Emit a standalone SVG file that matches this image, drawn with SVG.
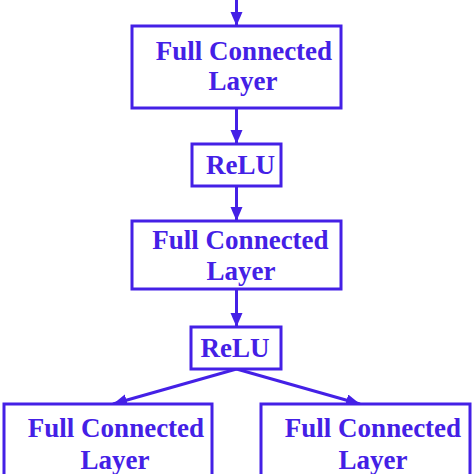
<svg xmlns="http://www.w3.org/2000/svg" width="474" height="474" viewBox="0 0 474 474">
<style>
.box{fill:#fff;stroke:#4420e6;stroke-width:3}
.t{font-family:"Liberation Serif","Times New Roman",serif;font-weight:bold;font-size:27px;fill:#4420e6;text-anchor:middle}
.c{stroke:#4420e6;stroke-width:3;fill:none;marker-end:url(#ah)}
</style>
<defs>
<marker id="ah" markerUnits="userSpaceOnUse" markerWidth="16" markerHeight="14" refX="14" refY="6" orient="auto">
<path d="M0,0 L14,6 L0,12 Z" fill="#4420e6"/>
</marker>
</defs>
<rect width="474" height="474" fill="#fff"/>
<g id="connectors">
<line class="c" x1="236.5" y1="0" x2="236.5" y2="26"/>
<line class="c" x1="236.5" y1="108" x2="236.5" y2="144"/>
<line class="c" x1="236.5" y1="186" x2="236.5" y2="221"/>
<line class="c" x1="236.5" y1="289" x2="236.5" y2="327"/>
<line class="c" x1="236.5" y1="369" x2="113" y2="404"/>
<line class="c" x1="236.5" y1="369" x2="360" y2="404"/>
</g>
<g id="fc1">
<rect class="box" x="132" y="26" width="209" height="82"/>
<text class="t" x="244" y="60">Full Connected</text>
<text class="t" x="243" y="90">Layer</text>
</g>
<g id="relu1">
<rect class="box" x="192" y="144" width="89" height="42"/>
<text class="t" x="240.5" y="174">ReLU</text>
</g>
<g id="fc2">
<rect class="box" x="132" y="221" width="209" height="68"/>
<text class="t" x="240.5" y="249">Full Connected</text>
<text class="t" x="241" y="280">Layer</text>
</g>
<g id="relu2">
<rect class="box" x="191" y="327" width="90" height="42"/>
<text class="t" x="235" y="357">ReLU</text>
</g>
<g id="fc3">
<rect class="box" x="4" y="404" width="208" height="80"/>
<text class="t" x="116" y="437">Full Connected</text>
<text class="t" x="115" y="469">Layer</text>
</g>
<g id="fc4">
<rect class="box" x="261" y="404" width="209" height="80"/>
<text class="t" x="373" y="437">Full Connected</text>
<text class="t" x="373" y="469">Layer</text>
</g>
</svg>
